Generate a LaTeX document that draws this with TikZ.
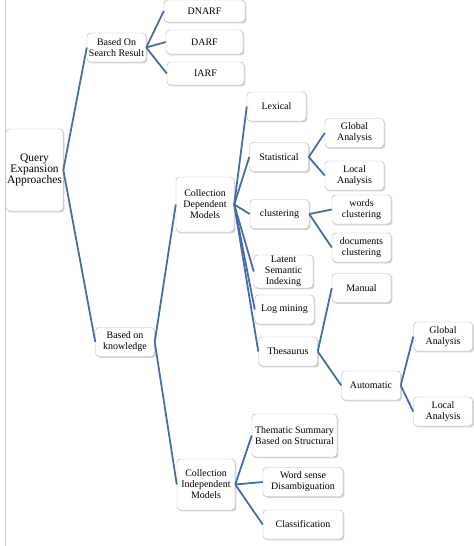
\documentclass[tikz,border=0pt]{standalone}
\usepackage{fontspec}
\setmainfont{Liberation Serif}
\usetikzlibrary{shadows}
\definecolor{linkblue}{RGB}{70,106,168}
\definecolor{boxgray}{RGB}{185,185,185}
\tikzset{
  box/.style={draw=boxgray, fill=white, rounded corners=3pt, align=center,
    minimum width=1.77cm, minimum height=0.87cm, inner sep=1pt,
    font=\fontsize{8.5pt}{9.4pt}\selectfont,
    drop shadow={shadow xshift=1.2pt, shadow yshift=-1.2pt, fill=gray!70, opacity=0.5}},
  link/.style={draw=linkblue, line width=1.5pt}
}
\begin{document}
\begin{tikzpicture}[x=0.03cm, y=-0.03cm]
\useasboundingbox (0,0) rectangle (474,546);
\draw[gray!40, line width=0.6pt] (5,0) -- (5,546);
% first level
\node[box, minimum width=1.71cm, minimum height=2.46cm, font=\fontsize{9.8pt}{9.5pt}\selectfont] (root) at (34.5,170) {Query\\Expansion\\Approaches};
\node[box] (srch) at (116.5,47.5) {Based On\\Search Result};
\node[box] (know) at (125,342) {Based on\\knowledge};
% relevance feedback
\node[box, minimum width=2.43cm, minimum height=0.66cm] (dnarf) at (204.5,11) {DNARF};
\node[box, minimum width=2.31cm, minimum height=0.72cm] (darf) at (204.5,42) {DARF};
\node[box, minimum width=2.31cm, minimum height=0.69cm] (iarf) at (205.5,73.5) {IARF};
% collection dependent
\node[box, minimum width=1.74cm, minimum height=1.65cm] (cdep) at (205,204.5) {Collection\\Dependent\\Models};
\node[box] (lex) at (276.5,106.5) {Lexical};
\node[box] (stat) at (279,157) {Statistical};
\node[box] (sglob) at (354.5,133) {Global\\Analysis};
\node[box] (sloc) at (354.5,175.5) {Local\\Analysis};
\node[box] (clus) at (279.5,214) {clustering};
\node[box] (wclus) at (361.5,209.5) {words\\clustering};
\node[box] (dclus) at (361.5,247.5) {documents\\clustering};
\node[box] (lsi) at (283.5,271.5) {Latent\\Semantic\\Indexing};
\node[box] (logm) at (284.5,309.5) {Log mining};
\node[box] (thes) at (288,351.5) {Thesaurus};
\node[box] (man) at (361.5,288) {Manual};
\node[box] (auto) at (371,385.5) {Automatic};
\node[box] (aglob) at (443,336.5) {Global\\Analysis};
\node[box] (aloc) at (443,411.5) {Local\\Analysis};
% collection independent
\node[box, minimum width=1.74cm, minimum height=1.53cm] (cind) at (206,484.5) {Collection\\Independent\\Models};
\node[box, minimum width=2.55cm, minimum height=1.29cm] (them) at (294.5,435.5) {Thematic Summary\\Based on Structural};
\node[box, minimum width=2.4cm] (wsd) at (303,482) {Word sense\\Disambiguation};
\node[box, minimum width=2.4cm] (cls) at (303,524.5) {Classification};
% connectors
\foreach \c in {srch,know} \draw[link] (root.east) -- (\c.west);
\foreach \c in {dnarf,darf,iarf} \draw[link] (srch.east) -- (\c.west);
\foreach \c in {cdep,cind} \draw[link] (know.east) -- (\c.west);
\foreach \c in {lex,stat,clus,lsi,logm,thes} \draw[link] (cdep.east) -- (\c.west);
\foreach \c in {sglob,sloc} \draw[link] (stat.east) -- (\c.west);
\foreach \c in {wclus,dclus} \draw[link] (clus.east) -- (\c.west);
\foreach \c in {man,auto} \draw[link] (thes.east) -- (\c.west);
\foreach \c in {aglob,aloc} \draw[link] (auto.east) -- (\c.west);
\foreach \c in {them,wsd,cls} \draw[link] (cind.east) -- (\c.west);
\end{tikzpicture}
\end{document}
